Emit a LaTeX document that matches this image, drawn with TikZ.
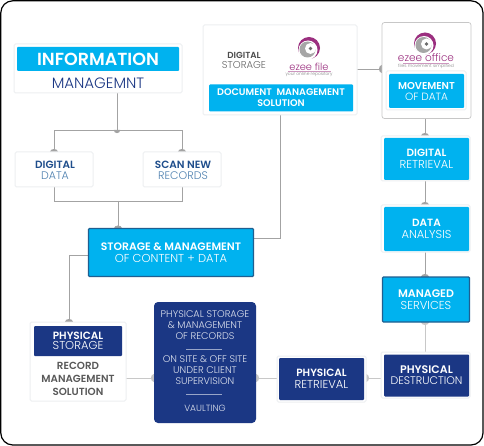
\documentclass[tikz,border=0pt]{standalone}
\usepackage{fontspec}
\setmainfont{Poppins Light}[BoldFont={Poppins SemiBold}]
\usetikzlibrary{arrows.meta,backgrounds}
\definecolor{cy}{HTML}{00B2EF}
\definecolor{nv}{HTML}{1B3784}
\definecolor{edge}{HTML}{1F5F90}
\definecolor{pale}{HTML}{EDEFF1}
\definecolor{ln}{HTML}{A3A3A3}
\definecolor{pu}{HTML}{9B2F7F}
\newcommand{\fs}[1]{\fontsize{#1}{#1}\selectfont}
\newcommand{\two}[2]{{\fs{10.5}\bfseries #1}\\[2.5pt]{\fs{11.5}#2}}
\tikzset{
 x=1pt,y=-1pt,
 base/.style={inner sep=0pt,outer sep=0pt,align=center,font=\fs{9}},
 paleframe/.style={base,draw=pale,line width=1pt,fill=white,rounded corners=1.5pt},
 cybox/.style={base,fill=cy,text=white,rounded corners=1pt},
 cyedge/.style={cybox,draw=edge,line width=1.2pt},
 nvbox/.style={base,fill=nv,text=white,rounded corners=1pt},
 plain/.style={base},
 link/.style={draw=ln,line width=.8pt},
 dotted end/.style={link,-{Circle[length=6pt,width=8pt]},shorten >=-3pt},
 swirlname/.style={base,text=pu,font=\fs{9.8}},
 swirlsub/.style={base,text=gray,font=\fs{4.4}},
}
\newcommand{\swirl}[2]{%
 \fill[pu] (#1,#2) circle (11pt);
 \fill[white] (#1-1,#2+2) circle (9.5pt);
 \fill[gray!70] (#1-1.5,#2+1.5) circle (8pt);
 \fill[white] (#1+1.5,#2+.5) circle (5.5pt);
 \fill[gray!85!black] (#1+1.5,#2+.5) circle (1.8pt);
}
\begin{document}
\begin{tikzpicture}
\useasboundingbox (0,0) rectangle (484,446);
% Left column
\node[paleframe,minimum width=168,minimum height=49] (infoF) at (98,68.5) {};
\node[cybox,minimum width=162,minimum height=24,font=\fs{17.5}\bfseries] (info) at (98,59) {INFORMATION};
\node[plain,text=nv,font=\fs{15}] (infoT) at (98,83) {MANAGEMNT};
\node[paleframe,minimum width=78,minimum height=35] (dig) at (54,169.5) {};
\node[plain] (digT) at (55,170) {\textcolor[HTML]{1F4E8C}{\fs{10.5}\bfseries DIGITAL}\\[2pt]\textcolor[HTML]{4F81B0}{\fs{11}DATA}};
\node[paleframe,minimum width=78,minimum height=35] (scan) at (182,169.5) {};
\node[plain] (scanT) at (183,170) {\textcolor[HTML]{1F4E8C}{\fs{10.5}\bfseries SCAN NEW}\\[2pt]\textcolor[HTML]{4F81B0}{\fs{11}RECORDS}};
% Storage
\node[cyedge,minimum width=165,minimum height=48] (stor) at (171,252.5) {{\fs{10.8}\bfseries STORAGE \& MANAGEMENT}\\[2.5pt]{\fs{11.5}OF CONTENT + DATA}};
% DMS
\node[paleframe,minimum width=154,minimum height=90] (dms) at (280,70) {};
\node[cybox,minimum width=144,minimum height=27,font=\fs{9.6}\bfseries] (dmsB) at (281,98) {DOCUMENT\ \ MANAGEMENT\\[1.5pt]SOLUTION};
\node[plain,text=black!70] (dmsT) at (244,60.5) {{\fs{8.8}\bfseries DIGITAL}\\[1pt]\textcolor{black!60}{\fs{10}STORAGE}};
\swirl{309}{48}
\node[swirlname] (efile) at (309,66.5) {ezee file};
\node[swirlsub] (efileS) at (309,74.5) {your online repository};
\coordinate (ef1) at (288,71); \coordinate (ef2) at (331,71);
\draw[pu!50,line width=.3pt] (ef1) -- (ef2);
% Office
\node[base,draw=black!22,line width=.7pt,fill=white,rounded corners=2.5pt,minimum width=89,minimum height=96] (off) at (426.5,70.5) {};
\node[paleframe,minimum width=80,minimum height=39] (offI) at (426,90.5) {};
\node[cybox,minimum width=75,minimum height=34] (offB) at (426.5,91) {{\fs{10}\bfseries MOVEMENT}\\[2pt]{\fs{10.5}OF DATA}};
\swirl{425}{43.5}
\node[swirlname,font=\fs{10.5}] (eoff) at (426,58) {ezee office};
\node[swirlsub,font=\fs{4.4}] (eoffS) at (426,66.8) {files movement simplified};
\coordinate (eo1) at (403,63.3); \coordinate (eo2) at (449,63.3);
\draw[pu!50,line width=.3pt] (eo1) -- (eo2);
% Right column
\node[paleframe,minimum width=89,minimum height=45] (drF) at (425.5,158.5) {};
\node[cybox,minimum width=85,minimum height=42] (dr) at (426.5,159) {\two{DIGITAL}{RETRIEVAL}};
\node[paleframe,minimum width=89,minimum height=47] (daF) at (425.5,228.5) {};
\node[cybox,minimum width=85,minimum height=44] (da) at (426.5,229) {\two{DATA}{ANALYSIS}};
\node[cyedge,minimum width=87,minimum height=45] (ms) at (426,299.5) {{\fs{11}\bfseries MANAGED}\\[2.5pt]{\fs{11.5}SERVICES}};
\node[paleframe,minimum width=89,minimum height=46] (pdF) at (425.5,375) {};
\node[nvbox,minimum width=85,minimum height=42] (pd) at (426.5,375.5) {{\fs{11}\bfseries PHYSICAL}\\[2pt]{\fs{11}DESTRUCTION}};
\node[paleframe,minimum width=89,minimum height=46] (prF) at (321.5,379) {};
\node[nvbox,minimum width=85,minimum height=42] (pr) at (321.5,379) {\two{PHYSICAL}{RETRIEVAL}};
% Vault block
\node[base,fill=nv,rounded corners=4pt,minimum width=102,minimum height=121] (vault) at (205,362.5) {};
\node[plain,text=white!85!nv,font=\fs{9.7}] (v1) at (205,325) {PHYSICAL STORAGE\\[1pt]\& MANAGEMENT\\[1pt]OF RECORDS};
\node[plain,text=white!85!nv,font=\fs{9.7}] (v2) at (205,370) {ON SITE \& OFF SITE\\[1pt]UNDER CLIENT\\[1pt]SUPERVISION};
\node[plain,text=white!85!nv,font=\fs{9}] (v3) at (205,408.5) {VAULTING};
\coordinate (r1a) at (186,349); \coordinate (r1b) at (222,349);
\coordinate (r2a) at (186,394); \coordinate (r2b) at (222,394);
\draw[white!55!nv,line width=.8pt] (r1a) -- (r1b);
\draw[white!55!nv,line width=.8pt] (r2a) -- (r2b);
% Record mgmt
\node[paleframe,minimum width=96,minimum height=79] (rec) at (78,361.5) {};
\node[nvbox,minimum width=88,minimum height=30] (recB) at (78,341) {{\fs{10.5}\bfseries PHYSICAL}\\[1.5pt]{\fs{11.5}STORAGE}};
\node[plain,text=black!65,font=\fs{10.3}\bfseries] (recT) at (78,379) {RECORD\\[2.5pt]MANAGEMENT\\[2.5pt]SOLUTION};
% Junctions
\coordinate (j1) at (117,130);
\coordinate (j2) at (118,201);
\coordinate (j3) at (280,238);
\coordinate (j4) at (69,255);
% Connectors + frame on background
\begin{scope}[on background layer]
\draw[black,line width=1.2pt,fill=white,rounded corners=12pt] (.8,.8) rectangle (483,445);
\draw[link] (infoF.south -| j1) -- (j1);
\fill[ln] (j1) ++(-3.2,0) arc[start angle=180,end angle=0,radius=3.2] -- cycle;
\draw[dotted end] (j1) -| (dig.north);
\draw[dotted end] (j1) -| (scan.north);
\draw[link] (dig.south) |- (j2);
\draw[link] (scan.south) |- (j2);
\draw[dotted end] (j2) -- (j2 |- stor.north);
\draw[link] (stor.east |- j3) -| (j3) -- (j3 |- dms.south);
\fill[ln] (280,115) -- ++(-3.5,0) arc[start angle=180,end angle=360,radius=3.5] -- cycle;
\draw[dotted end] (dms.east |- 0,69) -- (off.west |- 0,69);
\draw[dotted end] (off.south -| 425,0) -- (drF.north -| 425,0);
\draw[dotted end] (drF.south -| 425,0) -- (daF.north -| 425,0);
\draw[dotted end] (daF.south -| 425,0) -- (ms.north -| 425,0);
\draw[dotted end,draw=ln!60,line width=1pt] (pdF.north -| 425,0) -- (ms.south -| 425,0);
\draw[dotted end,draw=ln!60,line width=1pt] (pdF.west |- 0,378) -- (prF.east |- 0,378);
\draw[dotted end,draw=ln!60,line width=1pt] (prF.west |- 0,378) -- (vault.east |- 0,378);
\draw[link] (stor.west |- j4) -- (j4);
\draw[dotted end] (j4) -- (j4 |- rec.north);
\draw[dotted end,draw=ln!60,line width=1pt] (rec.east |- 0,378) -- (vault.west |- 0,378);
\end{scope}
\end{tikzpicture}
\end{document}
